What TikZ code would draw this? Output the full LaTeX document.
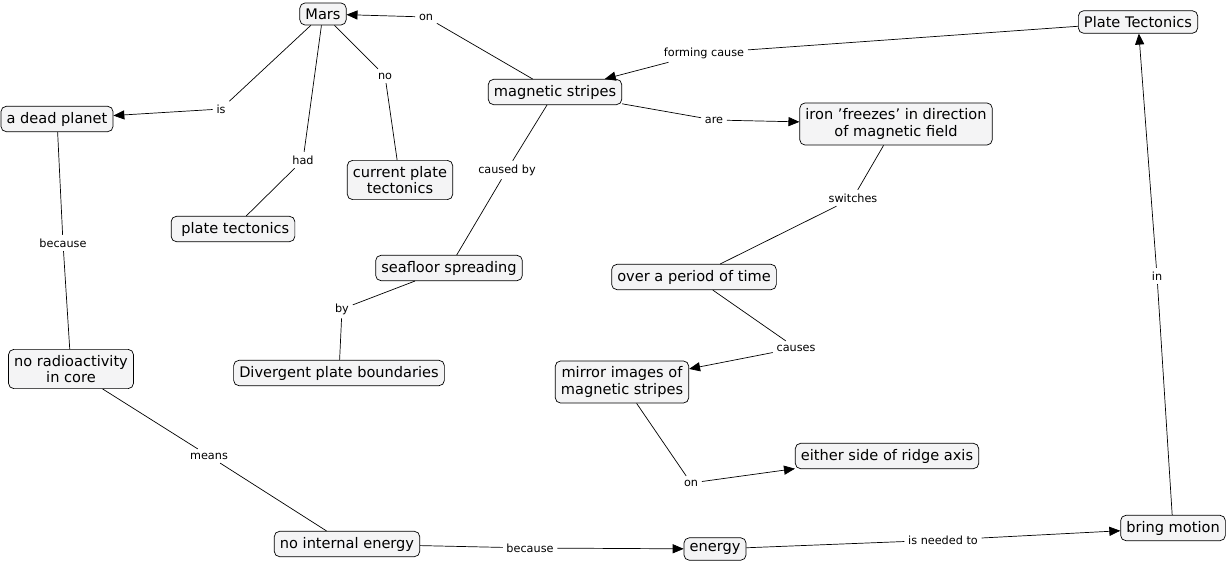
\documentclass[tikz,border=0pt]{standalone}
\usepackage{fontspec}
\setmainfont{DejaVu Sans}
\usetikzlibrary{arrows}

\begin{document}
\begin{tikzpicture}[x=0.02cm,y=-0.02cm,
  concept/.style={draw,rounded corners=3pt,fill=blue!4!gray!8,font=\fontsize{8.3}{9.5}\selectfont,inner sep=3.2pt,align=center},
  lbl/.style={font=\fontsize{6.4}{7}\selectfont,inner sep=2pt},
  >=triangle 45]
\useasboundingbox (0,0) rectangle (1229,567);
\node[concept] (mars) at (323,14) {Mars};
\node[concept] (pt) at (1138,22) {Plate Tectonics};
\node[concept] (ms) at (555,92) {magnetic stripes};
\node[concept] (dp) at (57,119) {a dead planet};
\node[concept] (ir) at (896,124) {iron 'freezes' in direction\\of magnetic field};
\node[concept] (cp) at (400,180) {current plate\\tectonics};
\node[concept] (pl) at (233,229) {\ plate tectonics};
\node[concept] (sf) at (449,268) {seafloor spreading};
\node[concept] (ov) at (694,277) {over a period of time};
\node[concept] (dv) at (339,373) {Divergent plate boundaries};
\node[concept] (nr) at (71,369) {no radioactivity\\in core};
\node[concept] (mi) at (622,382) {mirror images of\\magnetic stripes};
\node[concept] (es) at (887,456) {either side of ridge axis};
\node[concept] (ne) at (347,544) {no internal energy};
\node[concept] (en) at (715,549) {energy};
\node[concept] (bm) at (1173,528) {bring motion};
% link labels
\node[lbl] (l1) at (426,17) {on};
\node[lbl] (l2) at (704,53) {forming cause};
\node[lbl] (l3) at (221,109) {is};
\node[lbl] (l4) at (385,76) {no};
\node[lbl] (l5) at (714,120) {are};
\node[lbl] (l6) at (303,160) {had};
\node[lbl] (l7) at (507,170) {caused by};
\node[lbl] (l8) at (853,198) {switches};
\node[lbl] (l9) at (63,243) {because};
\node[lbl] (l10) at (1157,276) {in};
\node[lbl] (l11) at (342,309) {by};
\node[lbl] (l12) at (796,348) {causes};
\node[lbl] (l13) at (209,456) {means};
\node[lbl] (l14) at (691,483) {on};
\node[lbl] (l15) at (530,548) {because};
\node[lbl] (l16) at (943,540) {is needed to};
\draw (ms) -- (l1); \draw[->] (l1) -- (mars);
\draw (pt) -- (l2); \draw[->] (l2) -- (ms);
\draw (mars) -- (l3); \draw[->] (l3) -- (dp);
\draw (mars) -- (l4) -- (cp);
\draw (ms) -- (l5); \draw[->] (l5) -- (ir);
\draw (mars) -- (l6) -- (pl);
\draw (ms) -- (l7) -- (sf);
\draw (ir) -- (l8) -- (ov);
\draw (dp) -- (l9) -- (nr);
\draw (bm) -- (l10); \draw[->] (l10) -- (pt);
\draw (sf) -- (l11) -- (dv);
\draw (ov) -- (l12); \draw[->] (l12) -- (mi);
\draw (nr) -- (l13) -- (ne);
\draw (mi) -- (l14); \draw[->] (l14) -- (es);
\draw (ne) -- (l15); \draw[->] (l15) -- (en);
\draw (en) -- (l16); \draw[->] (l16) -- (bm);
\end{tikzpicture}
\end{document}
